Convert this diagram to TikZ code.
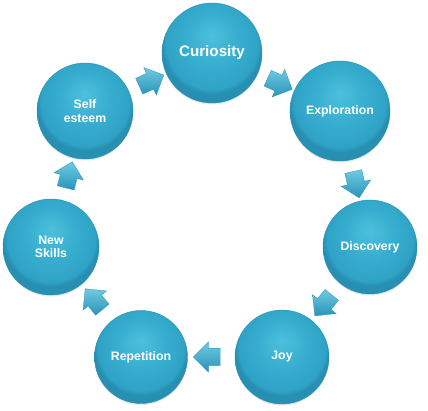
\documentclass[tikz,border=0pt]{standalone}
\usepackage{fontspec}
\setmainfont{Liberation Sans}
\usepackage{tikz}
\usetikzlibrary{shapes.arrows, shadows}

\definecolor{orbA}{HTML}{4CC0DD}
\definecolor{orbB}{HTML}{36ADCE}
\definecolor{orbC}{HTML}{2FA3C6}
\definecolor{orbD}{HTML}{2790B2}
\definecolor{tipA}{HTML}{6FCBE4}
\definecolor{tipB}{HTML}{2A93B6}
\pgfdeclareradialshading{orb}{\pgfpoint{0bp}{9bp}}{color(0bp)=(orbA); color(14bp)=(orbB); color(23bp)=(orbC); color(25bp)=(orbD); color(50bp)=(orbD)}

\begin{document}
\begin{tikzpicture}[x=1pt, y=-1pt,
    bubble/.style={circle, shading=orb, draw=orbD, line width=0.4pt,
      drop shadow={shadow xshift=0pt, shadow yshift=-1.5pt, opacity=0.2},
      text=white, align=center, inner sep=0pt,
      font=\bfseries\fontsize{12.3}{13.5}\selectfont},
    flow/.style={single arrow, single arrow head extend=6.5pt,
      inner xsep=0pt, inner ysep=8.5pt, minimum height=27pt,
      top color=tipA, bottom color=tipB, draw=tipB, line width=0.3pt,
      sloped, allow upside down, midway}
  ]
  \useasboundingbox (0,0) rectangle (428,411);

  % the seven stages, clockwise from the top
  \node[bubble, minimum size=100pt, font=\bfseries\fontsize{15.2}{17}\selectfont] (cur) at (212,53) {Curiosity};
  \node[bubble, minimum size=100pt] (expl) at (340,111) {Exploration};
  \node[bubble, minimum size=94pt]  (disc) at (370,247) {Discovery};
  \node[bubble, minimum size=94pt]  (joy)  at (282,357) {Joy};
  \node[bubble, minimum size=93pt]  (rep)  at (141,357) {Repetition};
  \node[bubble, minimum size=96pt]  (skil) at (51,247)  {New\\Skills};
  \node[bubble, minimum size=96pt]  (self) at (85,111)  {Self\\esteem};

  % block arrows between the stages
  \path (cur)  -- node[flow] (a1) {} (expl);
  \path (expl) -- node[flow] (a2) {} (disc);
  \path (disc) -- node[flow] (a3) {} (joy);
  \path (joy)  -- node[flow] (a4) {} (rep);
  \path (rep)  -- node[flow] (a5) {} (skil);
  \path (skil) -- node[flow] (a6) {} (self);
  \path (self) -- node[flow] (a7) {} (cur);
\end{tikzpicture}
\end{document}
